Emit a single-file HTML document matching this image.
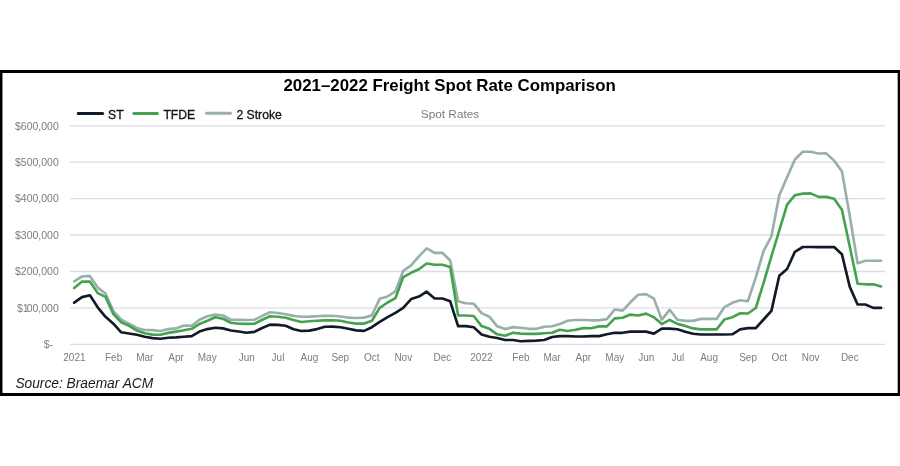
<!DOCTYPE html>
<html><head><meta charset="utf-8"><title>2021-2022 Freight Spot Rate Comparison</title>
<style>
html,body{margin:0;padding:0;background:#fff;}
body{width:900px;height:466px;position:relative;overflow:hidden;font-family:"Liberation Sans",sans-serif;}
.b{position:absolute;background:#000;}
svg{position:absolute;left:0;top:0;will-change:transform;}
.yl{font-size:10.5px;fill:#7c7c7c;}
.xl{font-size:10px;fill:#7c7c7c;}
.lg{font-size:12.2px;fill:#111;stroke:#111;stroke-width:0.3px;}
.sr{font-size:11.8px;fill:#7a7a7a;}
.tt{font-size:16.85px;font-weight:bold;fill:#000;}
.src{font-size:13.75px;font-style:italic;fill:#1a1a1a;}
</style></head>
<body>
<svg width="900" height="466" viewBox="0 0 900 466" font-family="Liberation Sans, sans-serif">
<line x1="70" y1="344.3" x2="885" y2="344.3" stroke="#dcdde4" stroke-width="1.3"/>
<line x1="70" y1="307.9" x2="885" y2="307.9" stroke="#dcdde4" stroke-width="1.3"/>
<line x1="70" y1="271.5" x2="885" y2="271.5" stroke="#dcdde4" stroke-width="1.3"/>
<line x1="70" y1="235.0" x2="885" y2="235.0" stroke="#dcdde4" stroke-width="1.3"/>
<line x1="70" y1="198.6" x2="885" y2="198.6" stroke="#dcdde4" stroke-width="1.3"/>
<line x1="70" y1="162.2" x2="885" y2="162.2" stroke="#dcdde4" stroke-width="1.3"/>
<line x1="70" y1="125.8" x2="885" y2="125.8" stroke="#dcdde4" stroke-width="1.3"/>
<text x="58.8" y="129.5" text-anchor="end" class="yl">$600,000</text>
<text x="58.8" y="165.9" text-anchor="end" class="yl">$500,000</text>
<text x="58.8" y="202.3" text-anchor="end" class="yl">$400,000</text>
<text x="58.8" y="238.7" text-anchor="end" class="yl">$300,000</text>
<text x="58.8" y="275.2" text-anchor="end" class="yl">$200,000</text>
<text x="58.8" y="311.6" text-anchor="end" class="yl">$<tspan letter-spacing="-2">1</tspan>00,000</text>
<text x="53" y="348.0" text-anchor="end" class="yl">$-</text>
<text x="73.60000000000001" y="360.9" text-anchor="middle" class="xl">202<tspan letter-spacing="-1.6">1</tspan></text>
<text x="113.6" y="360.9" text-anchor="middle" class="xl">Feb</text>
<text x="144.8" y="360.9" text-anchor="middle" class="xl">Mar</text>
<text x="176.1" y="360.9" text-anchor="middle" class="xl">Apr</text>
<text x="207.2" y="360.9" text-anchor="middle" class="xl">May</text>
<text x="246.7" y="360.9" text-anchor="middle" class="xl">Jun</text>
<text x="278.0" y="360.9" text-anchor="middle" class="xl">Jul</text>
<text x="309.4" y="360.9" text-anchor="middle" class="xl">Aug</text>
<text x="340.3" y="360.9" text-anchor="middle" class="xl">Sep</text>
<text x="371.7" y="360.9" text-anchor="middle" class="xl">Oct</text>
<text x="403.3" y="360.9" text-anchor="middle" class="xl">Nov</text>
<text x="442.4" y="360.9" text-anchor="middle" class="xl">Dec</text>
<text x="481.4" y="360.9" text-anchor="middle" class="xl">2022</text>
<text x="520.9" y="360.9" text-anchor="middle" class="xl">Feb</text>
<text x="552.0" y="360.9" text-anchor="middle" class="xl">Mar</text>
<text x="583.4" y="360.9" text-anchor="middle" class="xl">Apr</text>
<text x="614.8" y="360.9" text-anchor="middle" class="xl">May</text>
<text x="646.3" y="360.9" text-anchor="middle" class="xl">Jun</text>
<text x="677.8" y="360.9" text-anchor="middle" class="xl">Jul</text>
<text x="709.1" y="360.9" text-anchor="middle" class="xl">Aug</text>
<text x="748.1" y="360.9" text-anchor="middle" class="xl">Sep</text>
<text x="779.3" y="360.9" text-anchor="middle" class="xl">Oct</text>
<text x="810.7" y="360.9" text-anchor="middle" class="xl">Nov</text>
<text x="849.8" y="360.9" text-anchor="middle" class="xl">Dec</text>
<polyline points="74.2,281.3 82.0,276.5 89.9,275.9 97.7,287.6 105.5,293.5 113.4,311.1 121.2,319.7 129.0,323.7 136.9,328.0 144.7,330.0 152.5,330.1 160.4,331.0 168.2,329.1 176.0,328.4 183.9,325.5 191.7,325.8 199.5,319.8 207.4,316.2 215.2,314.6 223.0,315.5 230.9,319.7 238.7,319.9 246.5,320.0 254.4,319.8 262.2,315.9 270.1,312.3 277.9,313.0 285.7,314.3 293.6,315.9 301.4,316.8 309.2,316.6 317.1,316.2 324.9,315.8 332.7,315.8 340.6,316.5 348.4,317.6 356.2,318.0 364.1,317.6 371.9,315.4 379.7,298.7 387.6,296.5 395.4,291.4 403.2,270.8 411.1,265.3 418.9,256.3 426.7,248.3 434.6,252.8 442.4,252.8 450.2,260.5 458.1,301.3 465.9,303.2 473.7,303.7 481.6,313.1 489.4,316.7 497.2,326.3 505.1,329.1 512.9,327.1 520.7,327.8 528.6,328.8 536.4,328.8 544.2,326.7 552.1,326.2 559.9,323.9 567.7,320.7 575.6,320.0 583.4,320.0 591.2,320.3 599.1,320.3 606.9,319.1 614.7,309.5 622.6,310.6 630.4,302.3 638.2,294.8 646.1,294.1 653.9,298.6 661.8,319.6 669.6,309.8 677.4,319.7 685.3,320.9 693.1,320.9 700.9,318.9 708.8,318.9 716.6,318.9 724.4,307.1 732.3,302.8 740.1,300.3 747.9,301.2 755.8,277.3 763.6,250.9 771.4,236.3 779.3,195.3 787.1,177.3 794.9,159.5 802.8,151.7 810.6,151.8 818.4,153.5 826.3,153.4 834.1,160.6 841.9,171.2 849.8,216.3 857.6,263.3 865.4,260.7 873.3,260.7 881.1,260.7" fill="none" stroke="#99b0a9" stroke-width="2.65" stroke-linejoin="round" stroke-linecap="round"/>
<polyline points="74.2,288.0 82.0,281.6 89.9,281.6 97.7,293.1 105.5,296.9 113.4,314.1 121.2,322.4 129.0,325.8 136.9,330.5 144.7,333.3 152.5,334.6 160.4,334.8 168.2,332.9 176.0,331.6 183.9,330.3 191.7,328.8 199.5,323.9 207.4,320.7 215.2,317.2 223.0,318.8 230.9,322.8 238.7,323.7 246.5,323.9 254.4,323.7 262.2,319.8 270.1,316.2 277.9,316.8 285.7,317.7 293.6,320.0 301.4,322.0 309.2,321.3 317.1,320.7 324.9,320.4 332.7,320.3 340.6,320.8 348.4,322.5 356.2,323.6 364.1,323.6 371.9,320.8 379.7,307.9 387.6,302.5 395.4,298.2 403.2,277.1 411.1,272.8 418.9,269.3 426.7,263.5 434.6,264.7 442.4,264.7 450.2,267.1 458.1,315.5 465.9,315.5 473.7,316.0 481.6,326.1 489.4,328.8 497.2,334.3 505.1,335.7 512.9,332.7 520.7,333.6 528.6,333.9 536.4,333.9 544.2,333.2 552.1,332.7 559.9,329.7 567.7,331.0 575.6,329.7 583.4,328.1 591.2,328.2 599.1,326.4 606.9,326.4 614.7,318.4 622.6,317.8 630.4,314.6 638.2,315.5 646.1,313.6 653.9,317.3 661.8,324.1 669.6,319.9 677.4,323.9 685.3,325.9 693.1,328.4 700.9,329.4 708.8,329.4 716.6,329.4 724.4,319.5 732.3,317.3 740.1,313.3 747.9,313.5 755.8,308.0 763.6,282.8 771.4,256.3 779.3,230.3 787.1,204.7 794.9,195.2 802.8,193.6 810.6,193.4 818.4,196.9 826.3,196.9 834.1,198.8 841.9,209.8 849.8,246.8 857.6,283.7 865.4,284.3 873.3,284.3 881.1,286.5" fill="none" stroke="#45a24f" stroke-width="2.65" stroke-linejoin="round" stroke-linecap="round"/>
<polyline points="74.2,302.7 82.0,297.1 89.9,295.3 97.7,307.3 105.5,316.8 113.4,323.7 121.2,332.3 129.0,333.5 136.9,334.8 144.7,336.8 152.5,338.1 160.4,338.7 168.2,337.8 176.0,337.4 183.9,336.8 191.7,336.1 199.5,331.6 207.4,329.1 215.2,327.8 223.0,328.4 230.9,330.5 238.7,331.5 246.5,332.7 254.4,331.9 262.2,328.0 270.1,324.6 277.9,324.9 285.7,325.8 293.6,329.3 301.4,331.0 309.2,330.6 317.1,329.1 324.9,326.8 332.7,326.6 340.6,327.2 348.4,328.7 356.2,330.4 364.1,330.9 371.9,327.2 379.7,321.8 387.6,317.1 395.4,312.8 403.2,307.8 411.1,299.1 418.9,296.6 426.7,291.7 434.6,298.5 442.4,298.5 450.2,301.3 458.1,326.1 465.9,326.1 473.7,327.3 481.6,334.4 489.4,336.8 497.2,338.0 505.1,340.0 512.9,340.0 520.7,341.3 528.6,340.9 536.4,340.6 544.2,340.0 552.1,337.0 559.9,336.1 567.7,336.1 575.6,336.5 583.4,336.5 591.2,336.1 599.1,336.1 606.9,334.2 614.7,332.8 622.6,332.8 630.4,331.6 638.2,331.6 646.1,331.6 653.9,333.6 661.8,328.6 669.6,328.6 677.4,329.3 685.3,331.8 693.1,333.7 700.9,334.5 708.8,334.5 716.6,334.5 724.4,334.5 732.3,334.3 740.1,329.4 747.9,328.1 755.8,328.1 763.6,319.5 771.4,310.9 779.3,275.8 787.1,269.0 794.9,251.8 802.8,247.0 810.6,247.0 818.4,247.1 826.3,247.1 834.1,247.1 841.9,254.2 849.8,286.9 857.6,304.5 865.4,304.5 873.3,307.9 881.1,307.9" fill="none" stroke="#111a27" stroke-width="2.65" stroke-linejoin="round" stroke-linecap="round"/>
<line x1="78.2" y1="113.5" x2="102.6" y2="113.5" stroke="#111a27" stroke-width="3" stroke-linecap="round"/>
<line x1="133.8" y1="113.4" x2="157.4" y2="113.4" stroke="#45a24f" stroke-width="3" stroke-linecap="round"/>
<line x1="206.5" y1="113.2" x2="230.5" y2="113.2" stroke="#99b0a9" stroke-width="3" stroke-linecap="round"/>
<text x="108" y="118.6" class="lg">ST</text>
<text x="163.4" y="118.6" class="lg">TFDE</text>
<text x="236.4" y="118.6" class="lg">2 Stroke</text>
<text x="450" y="118.0" text-anchor="middle" class="sr">Spot Rates</text>
<text x="449.6" y="91.4" text-anchor="middle" class="tt">2021–2022 Freight Spot Rate Comparison</text>
<text x="15.4" y="387.5" class="src">Source: Braemar ACM</text>
</svg>
<div class="b" style="left:0;top:70px;width:900px;height:3px"></div>
<div class="b" style="left:0;top:393px;width:900px;height:3px"></div>
<div class="b" style="left:0;top:70px;width:2px;height:326px"></div>
<div class="b" style="left:2px;top:73px;width:1px;height:320px;background:#8a8a8a"></div>
<div class="b" style="left:898px;top:70px;width:2px;height:326px"></div>
<div class="b" style="left:897px;top:73px;width:1px;height:320px;background:#adadad"></div>
</body></html>
